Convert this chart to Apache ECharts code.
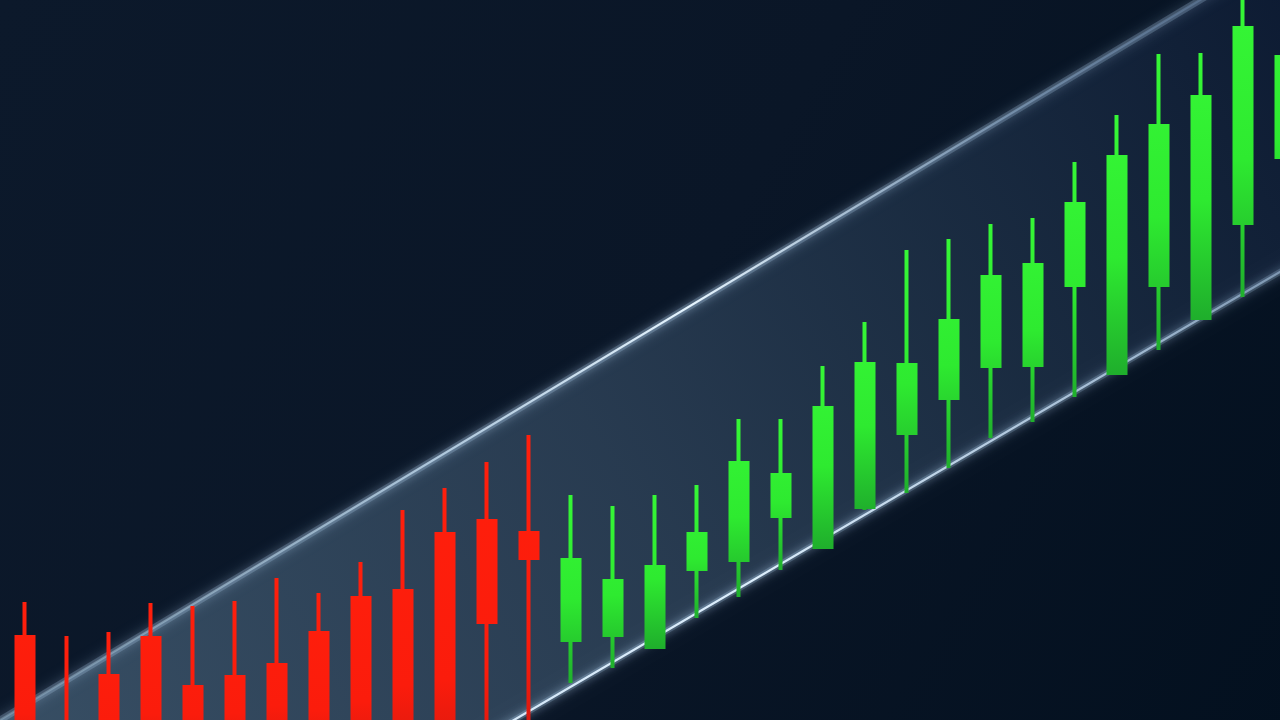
<!DOCTYPE html>
<html>
<head>
<meta charset="utf-8">
<script src="https://cdn.jsdelivr.net/npm/echarts@6/dist/echarts.min.js"></script>
<style>
html,body{margin:0;padding:0;background:#081424;overflow:hidden;width:1280px;height:720px;}
#chart{width:1306px;height:720px;}
</style>
</head>
<body>
<div id="chart"></div>
<script>
// ---- data (price units) ----
const sessions = ['1','2','3','4','5','6','7','8','9','10','11','12','13','14','15','16',
  '17','18','19','20','21','22','23','24','25','26','27','28','29','30','31'];
const openValues  = [83, -5, 44, 82, 33, 43, 55, 87, 122, 129, 186, 199, 187,
  80, 85, 73, 151, 160, 204, 173, 213, 287, 322, 354, 355, 435, 347, 435, 402, 497, 563];
const closeValues = [-40, -40, -40, -40, -40, -40, -40, -40, -40, -40, -40, 98, 162,
  160, 139, 153, 186, 257, 245, 312, 356, 355, 399, 443, 455, 516, 563, 594, 623, 692, 663];
const lowValues   = [-40, -40, -40, -40, -40, -40, -40, -40, -40, -40, -40, -40, -10,
  37, 52, 73, 102, 123, 150, 173, 210, 227, 252, 282, 298, 323, 347, 370, 402, 423, 447];
const highValues  = [118, 84, 88, 117, 114, 119, 142, 127, 158, 210, 232, 258, 285,
  225, 214, 225, 235, 301, 301, 354, 398, 470, 481, 496, 502, 558, 605, 666, 667, 730, 740];
// trend channel: values at first and last session
const channelUpper = [15, 771];
const channelLower = [-286, 451];

const candleData = sessions.map((s, i) => [openValues[i], closeValues[i], lowValues[i], highValues[i]]);

const chart = echarts.init(document.getElementById('chart'), null, {renderer: 'canvas'});

function extend(a, b, x) {
  const t = (x - a[0]) / (b[0] - a[0]);
  return [x, a[1] + t * (b[1] - a[1])];
}

const upColor = new echarts.graphic.LinearGradient(0, 0, 0, 1, [
  {offset: 0, color: '#36f736'},
  {offset: 0.55, color: '#2eea30'},
  {offset: 1, color: '#1fae2c'}
]);
const downColor = new echarts.graphic.LinearGradient(0, 0, 0, 1, [
  {offset: 0, color: '#ff1f0c'},
  {offset: 0.7, color: '#fb1c0c'},
  {offset: 1, color: '#d8190f'}
]);

chart.setOption({
  backgroundColor: new echarts.graphic.LinearGradient(0, 0, 1, 1, [
    {offset: 0, color: '#0c192b'},
    {offset: 0.5, color: '#0a1627'},
    {offset: 1, color: '#03101f'}
  ]),
  animation: false,
  grid: {left: 4, right: 0, top: 0, bottom: 0, containLabel: false},
  xAxis: {
    type: 'category', data: sessions, boundaryGap: true,
    axisLine: {show: false}, axisTick: {show: false}, axisLabel: {show: false}, splitLine: {show: false}
  },
  yAxis: {
    type: 'value', min: 0, max: 720,
    axisLine: {show: false}, axisTick: {show: false}, axisLabel: {show: false}, splitLine: {show: false}
  },
  series: [
    {
      type: 'custom',
      name: 'channel',
      z: 1,
      clip: false,
      silent: true,
      encode: {x: [0, 3], y: [1, 2, 4, 5]},
      data: [[0, channelUpper[0], channelLower[0], sessions.length - 1, channelUpper[1], channelLower[1]]],
      renderItem: function (params, api) {
        const i0 = api.value(0), i1 = api.value(3);
        const u0 = api.coord([i0, api.value(1)]), u1 = api.coord([i1, api.value(4)]);
        const l0 = api.coord([i0, api.value(2)]), l1 = api.coord([i1, api.value(5)]);
        const xa = -120, xb = 1420;
        const ua = extend(u0, u1, xa), ub = extend(u0, u1, xb);
        const la = extend(l0, l1, xa), lb = extend(l0, l1, xb);
        const fill = new echarts.graphic.LinearGradient(0, 720, 1280, 0, [
          {offset: 0, color: 'rgba(60,84,106,0.9)'},
          {offset: 0.45, color: 'rgba(44,64,86,0.88)'},
          {offset: 0.72, color: 'rgba(28,46,68,0.9)'},
          {offset: 1, color: 'rgba(14,28,52,0.95)'}
        ], true);
        const edgeUpper = new echarts.graphic.LinearGradient(0, 720, 1280, 0, [
          {offset: 0, color: 'rgba(150,180,200,0.4)'},
          {offset: 0.35, color: 'rgba(190,215,235,0.85)'},
          {offset: 0.55, color: 'rgba(230,245,255,1)'},
          {offset: 0.8, color: 'rgba(150,180,210,0.55)'},
          {offset: 1, color: 'rgba(110,140,180,0.3)'}
        ], true);
        const edgeLower = new echarts.graphic.LinearGradient(0, 720, 1280, 0, [
          {offset: 0, color: 'rgba(210,230,250,0.95)'},
          {offset: 0.5, color: 'rgba(220,238,252,1)'},
          {offset: 0.8, color: 'rgba(180,205,230,0.8)'},
          {offset: 1, color: 'rgba(140,170,200,0.5)'}
        ], true);
        return {
          type: 'group',
          children: [
            {type: 'polygon', shape: {points: [ua, ub, lb, la]}, style: {fill: fill}},
            {type: 'line', shape: {x1: ua[0], y1: ua[1], x2: ub[0], y2: ub[1]},
              style: {stroke: 'rgba(170,205,235,0.25)', lineWidth: 7, shadowBlur: 16, shadowColor: 'rgba(170,210,250,0.7)'}},
            {type: 'line', shape: {x1: ua[0], y1: ua[1], x2: ub[0], y2: ub[1]},
              style: {stroke: edgeUpper, lineWidth: 2.2, shadowBlur: 8, shadowColor: 'rgba(200,230,255,0.9)'}},
            {type: 'line', shape: {x1: la[0], y1: la[1], x2: lb[0], y2: lb[1]},
              style: {stroke: 'rgba(170,205,235,0.22)', lineWidth: 6, shadowBlur: 14, shadowColor: 'rgba(170,210,250,0.7)'}},
            {type: 'line', shape: {x1: la[0], y1: la[1], x2: lb[0], y2: lb[1]},
              style: {stroke: edgeLower, lineWidth: 2.2, shadowBlur: 8, shadowColor: 'rgba(200,230,255,0.9)'}}
          ]
        };
      }
    },
    {
      type: 'candlestick',
      name: 'price',
      z: 3,
      clip: true,
      barWidth: 18,
      data: candleData,
      itemStyle: {
        color: upColor,
        color0: downColor,
        borderColor: upColor,
        borderColor0: downColor,
        borderWidth: 4
      }
    }
  ]
});
</script>
</body>
</html>
